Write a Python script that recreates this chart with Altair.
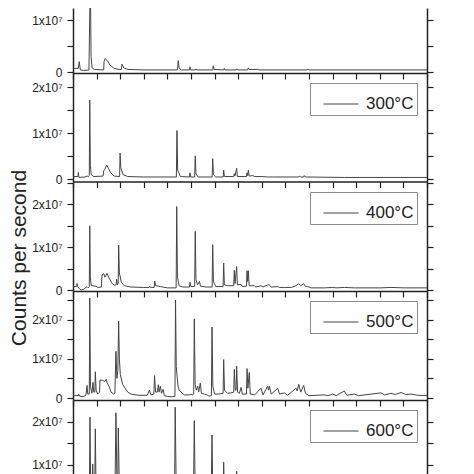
import altair as alt
import pandas as pd

# Legend labels (top panel's legend lies outside the visible crop)
TEMPS = ["200°C", "300°C", "400°C", "500°C", "600°C"]

# (retention time, counts per second in units of 1e7)
S200 = [(0, 0.07), (0.45, 0.07), (0.53, 0.20), (0.62, 0.04), (0.9, 0.03), (1.35, 0.04), (1.47, 1.90),
        (1.53, 0.30), (1.62, 0.08), (1.8, 0.05), (2.6, 0.04), (2.63, 0.20), (2.72, 0.26), (2.9, 0.22),
        (3.15, 0.13), (3.5, 0.07), (3.9, 0.05), (4.1, 0.05), (4.15, 0.15), (4.3, 0.08), (4.66, 0.05),
        (6.0, 0.04), (8.86, 0.04), (8.92, 0.22), (9.0, 0.07), (9.2, 0.04), (9.87, 0.04), (9.92, 0.10),
        (9.98, 0.04), (10.37, 0.04), (10.42, 0.06), (10.48, 0.04), (11.84, 0.04), (11.89, 0.12),
        (11.95, 0.05), (12.77, 0.04), (12.82, 0.07), (12.88, 0.04), (13.82, 0.04), (13.87, 0.06),
        (13.93, 0.04), (14.8, 0.04), (14.86, 0.08), (14.92, 0.05), (15.63, 0.05), (15.68, 0.06),
        (15.74, 0.04), (19.84, 0.04), (19.89, 0.06), (19.95, 0.04), (30, 0.04)]

S300 = [(0, 0.06), (0.42, 0.06), (0.45, 0.15), (0.5, 0.04), (1.0, 0.05), (1.19, 0.07), (1.3, 0.06),
        (1.38, 0.08), (1.42, 1.72), (1.47, 0.30), (1.55, 0.10), (1.75, 0.06), (2.55, 0.07), (2.6, 0.18),
        (2.7, 0.22), (2.86, 0.31), (3.0, 0.24), (3.2, 0.14), (3.5, 0.07), (3.95, 0.06), (3.99, 0.57),
        (4.05, 0.25), (4.25, 0.10), (4.64, 0.06), (6.0, 0.05), (8.76, 0.05), (8.81, 1.06), (8.87, 0.20),
        (9.1, 0.06), (9.87, 0.05), (9.92, 0.14), (9.97, 0.05), (10.31, 0.05), (10.36, 0.51),
        (10.42, 0.12), (10.6, 0.05), (11.79, 0.05), (11.84, 0.45), (11.9, 0.10), (12.1, 0.05),
        (12.73, 0.05), (12.77, 0.20), (12.83, 0.06), (13.62, 0.06), (13.67, 0.12), (13.72, 0.07),
        (13.87, 0.24), (13.93, 0.06), (14.7, 0.06), (14.75, 0.14), (14.8, 0.08), (14.86, 0.20),
        (14.93, 0.07), (15.23, 0.08), (15.4, 0.06), (15.93, 0.06), (16.5, 0.05), (17.0, 0.05),
        (19.13, 0.05), (19.18, 0.07), (19.3, 0.05), (19.55, 0.05), (19.6, 0.08), (19.7, 0.05),
        (23.0, 0.04), (30, 0.04)]

S400 = [(0, 0.08), (0.3, 0.08), (0.34, 0.15), (0.4, 0.08), (0.55, 0.03), (0.7, 0.0), (0.93, 0.02),
        (1.19, 0.08), (1.3, 0.05), (1.38, 0.08), (1.42, 1.50), (1.47, 0.30), (1.55, 0.10), (1.95, 0.09),
        (2.1, 0.06), (2.4, 0.07), (2.46, 0.35), (2.6, 0.38), (2.71, 0.30), (2.88, 0.39), (3.05, 0.28),
        (3.3, 0.16), (3.5, 0.11), (3.65, 0.12), (3.7, 0.25), (3.76, 0.12), (3.83, 0.15), (3.87, 1.05),
        (3.93, 0.40), (4.1, 0.18), (4.35, 0.10), (4.92, 0.07), (6.0, 0.06), (6.45, 0.06), (6.5, 0.09),
        (6.58, 0.06), (6.88, 0.06), (6.93, 0.21), (7.0, 0.10), (7.23, 0.09), (7.4, 0.08), (7.6, 0.07),
        (8.0, 0.05), (8.74, 0.05), (8.79, 1.95), (8.85, 0.30), (9.0, 0.10), (9.3, 0.07), (9.87, 0.07),
        (9.92, 0.18), (9.98, 0.08), (10.31, 0.08), (10.36, 1.37), (10.42, 0.25), (10.55, 0.12),
        (10.72, 0.20), (10.8, 0.09), (11.3, 0.07), (11.79, 0.07), (11.84, 1.06), (11.9, 0.20),
        (12.1, 0.08), (12.72, 0.08), (12.77, 0.63), (12.83, 0.12), (13.1, 0.10), (13.62, 0.10),
        (13.67, 0.46), (13.73, 0.15), (13.87, 0.55), (13.93, 0.12), (14.24, 0.13), (14.35, 0.08),
        (14.7, 0.09), (14.75, 0.45), (14.8, 0.20), (14.86, 0.45), (14.93, 0.10), (15.37, 0.10),
        (15.5, 0.07), (15.93, 0.10), (16.1, 0.07), (16.5, 0.12), (16.64, 0.12), (16.8, 0.07),
        (17.35, 0.08), (17.5, 0.06), (17.91, 0.06), (18.5, 0.06), (18.9, 0.10), (19.13, 0.15),
        (19.3, 0.10), (19.55, 0.15), (19.7, 0.08), (19.89, 0.08), (20.2, 0.05), (21.3, 0.05),
        (22.0, 0.06), (22.3, 0.05), (23.0, 0.06), (23.84, 0.05), (26.1, 0.05), (26.95, 0.06),
        (28.05, 0.05), (28.9, 0.05), (30, 0.05)]

S500 = [(0, 0.06), (0.45, 0.06), (0.48, 0.10), (0.55, 0.05), (0.68, 0.04), (0.93, 0.04), (1.1, 0.08),
        (1.19, 0.32), (1.25, 0.10), (1.38, 0.10), (1.42, 2.55), (1.48, 0.30), (1.6, 0.12), (1.69, 0.40),
        (1.76, 0.15), (1.85, 0.15), (1.89, 0.67), (1.96, 0.20), (2.09, 0.10), (2.25, 0.15), (2.29, 0.46),
        (2.5, 0.45), (2.71, 0.42), (2.82, 0.48), (2.88, 0.40), (3.05, 0.30), (3.22, 0.15), (3.45, 0.10),
        (3.55, 0.12), (3.64, 1.19), (3.72, 0.50), (3.8, 0.70), (3.87, 1.96), (3.93, 1.00), (4.01, 0.60),
        (4.2, 0.35), (4.35, 0.28), (4.64, 0.15), (4.92, 0.10), (5.5, 0.07), (6.3, 0.07), (6.47, 0.20),
        (6.6, 0.08), (6.85, 0.10), (6.91, 0.57), (7.0, 0.15), (7.15, 0.15), (7.23, 0.34), (7.3, 0.15),
        (7.4, 0.30), (7.5, 0.12), (7.63, 0.22), (7.75, 0.06), (8.0, 0.04), (8.31, 0.03), (8.64, 0.04),
        (8.69, 2.50), (8.75, 0.80), (8.9, 0.30), (9.01, 0.19), (9.43, 0.08), (9.92, 0.08), (10.0, 0.10),
        (10.1, 0.08), (10.23, 0.10), (10.28, 2.02), (10.35, 0.35), (10.45, 0.20), (10.57, 0.30),
        (10.65, 0.15), (10.79, 0.38), (10.88, 0.12), (11.13, 0.10), (11.36, 0.08), (11.5, 0.05),
        (11.73, 0.06), (11.78, 1.81), (11.85, 0.30), (12.0, 0.10), (12.3, 0.10), (12.72, 0.12),
        (12.77, 0.98), (12.84, 0.20), (13.1, 0.12), (13.39, 0.13), (13.62, 0.15), (13.67, 0.73),
        (13.75, 0.20), (13.82, 0.20), (13.87, 0.81), (13.95, 0.15), (14.1, 0.12), (14.24, 0.27),
        (14.35, 0.10), (14.7, 0.10), (14.75, 0.75), (14.82, 0.25), (14.94, 0.65), (15.02, 0.10),
        (15.4, 0.08), (15.93, 0.25), (16.1, 0.08), (16.5, 0.30), (16.57, 0.20), (16.64, 0.30),
        (16.8, 0.10), (17.35, 0.25), (17.5, 0.10), (17.91, 0.13), (18.2, 0.07), (18.9, 0.25),
        (19.0, 0.18), (19.13, 0.35), (19.3, 0.15), (19.55, 0.32), (19.7, 0.12), (20.0, 0.06),
        (21.3, 0.08), (21.6, 0.06), (22.01, 0.10), (22.3, 0.06), (22.99, 0.18), (23.2, 0.07),
        (23.84, 0.10), (24.2, 0.06), (26.1, 0.13), (26.4, 0.08), (26.95, 0.12), (27.3, 0.09),
        (27.8, 0.14), (28.2, 0.09), (28.65, 0.10), (29.2, 0.07), (30, 0.06)]

S600 = [(0, 0.06), (1.38, 0.10), (1.44, 2.10), (1.5, 0.50), (1.6, 0.30), (1.67, 1.02), (1.74, 0.30),
        (1.84, 0.30), (1.89, 1.83), (1.96, 0.30), (2.2, 0.20), (3.55, 0.20), (3.64, 2.20), (3.72, 0.60),
        (3.8, 0.70), (3.84, 1.85), (3.92, 0.60), (4.3, 0.25), (5.0, 0.10), (8.6, 0.05), (8.66, 2.33),
        (8.74, 0.60), (9.0, 0.20), (10.2, 0.10), (10.28, 2.02), (10.36, 0.30), (11.7, 0.10),
        (11.78, 1.69), (11.85, 0.30), (12.7, 0.10), (12.77, 1.06), (12.84, 0.20), (13.6, 0.15),
        (13.67, 0.75), (13.75, 0.20), (13.82, 0.20), (13.87, 0.85), (13.95, 0.15), (14.75, 0.70),
        (14.94, 0.60), (15.1, 0.10), (30, 0.06)]

SERIES = [S200, S300, S400, S500, S600]

# y-axis windows (units of 1e7) and tick positions per panel
Y_DOMAINS = [(-0.019, 1.231), (-0.048, 2.311), (-0.023, 2.523), (-0.051, 2.730), (0.776, 2.497)]
Y_TICKS = [[0, 0.5, 1.0], [0, 0.5, 1.0, 1.5, 2.0], [0, 0.5, 1.0, 1.5, 2.0, 2.5],
           [0, 0.5, 1.0, 1.5, 2.0, 2.5], [1.0, 1.5, 2.0]]
X_TICKS = [0, 2, 4, 6, 8, 10, 12, 14, 16, 18, 20, 22, 24, 26, 28, 30]
HEIGHTS = [65, 108.5, 109, 109, 74.5]

FONT = "Liberation Sans"
INK = "#222222"
LINE = "#444444"
LABEL_EXPR = ("datum.value == 0 ? '0' : datum.value == 10000000 ? '1x10\u2077' : "
              "datum.value == 20000000 ? '2x10\u2077' : ''")


def panel(i):
    pts = SERIES[i]
    df = pd.DataFrame({"t": [p[0] for p in pts],
                       "cps": [p[1] * 1e7 for p in pts],
                       "temp": TEMPS[i]})
    lo, hi = Y_DOMAINS[i]
    yscale = alt.Scale(domain=[lo * 1e7, hi * 1e7], nice=False, zero=False)
    yvals = [v * 1e7 for v in Y_TICKS[i]]
    last = i == len(SERIES) - 1
    xaxis = alt.Axis(values=X_TICKS, labels=False, title=None, tickSize=6, grid=False,
                     domain=not last, ticks=not last)
    xenc = alt.X("t:Q", scale=alt.Scale(domain=[0, 30], nice=False, zero=False), axis=xaxis)

    left_kw = dict(orient="left", values=yvals, labelExpr=LABEL_EXPR, tickSize=6,
                   labelPadding=5, grid=False, labelOverlap=False)
    if i == 2:
        left_kw.update(title="Counts per second", titleX=-53.5, titleY=75.5, titleAngle=270,
                       titleBaseline="middle", titleAlign="center")
    else:
        left_kw.update(title=None)

    if i == 0:
        legend = None
    else:
        legend = alt.Legend(title=None, orient="top-right", offset=10, padding=3,
                            strokeColor="#8c8c8c", fillColor="white", symbolType="stroke",
                            symbolSize=1225, symbolStrokeWidth=1, symbolOffset=10,
                            labelOffset=7, labelFontSize=17, labelFont=FONT, labelColor=INK)

    main = alt.Chart(df).mark_line(clip=True, strokeWidth=1).encode(
        x=xenc,
        y=alt.Y("cps:Q", scale=yscale, axis=alt.Axis(**left_kw)),
        color=alt.Color("temp:N", scale=alt.Scale(range=[LINE]), legend=legend),
    )
    right = alt.Chart(df).mark_line(clip=True, opacity=0).encode(
        x=xenc,
        y=alt.Y("cps:Q", scale=yscale,
                axis=alt.Axis(orient="right", values=yvals, labels=False, title=None,
                              tickSize=6, grid=False)),
    )
    return alt.layer(main, right).resolve_scale(y="independent").properties(
        width=354, height=HEIGHTS[i])


chart = alt.vconcat(*[panel(i) for i in range(len(SERIES))], spacing=0, bounds="flush")
chart = chart.resolve_scale(color="independent").properties(
    padding={"left": 0, "top": 0, "right": 0, "bottom": 0},
).configure_view(stroke=None).configure_axis(
    domainColor=INK, tickColor=INK, domainWidth=1.5, tickWidth=1.2,
    labelFont=FONT, labelFontSize=12, labelColor=INK,
    titleFont=FONT, titleFontSize=21, titleFontWeight="normal", titleColor=INK,
)

chart.save("out.html", embed_options={"renderer": "svg", "actions": False})
